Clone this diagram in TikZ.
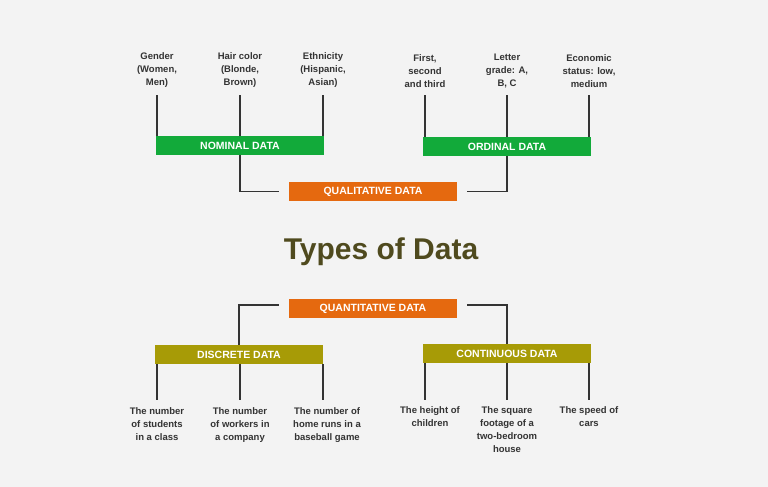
\documentclass[tikz,border=0pt]{standalone}
\usepackage{fontspec}
\setmainfont{Liberation Sans}
\usetikzlibrary{positioning}
\definecolor{bggray}{HTML}{F3F3F3}
\definecolor{nomgreen}{HTML}{12AA3A}
\definecolor{qualorange}{HTML}{E5690F}
\definecolor{discolive}{HTML}{A79B06}
\definecolor{titleolive}{HTML}{4F4A1E}
\definecolor{linegray}{HTML}{333333}
\tikzstyle{greenbox} = [rectangle, minimum width=168pt, minimum height=19pt, text centered, fill=nomgreen, text=white, font=\bfseries\fontsize{10.5}{11}\selectfont]
\tikzstyle{orangebox} = [greenbox, fill=qualorange]
\tikzstyle{olivebox} = [greenbox, fill=discolive]
\tikzstyle{leaf} = [align=center, text=linegray, font=\bfseries\fontsize{9.5}{13}\selectfont, inner sep=0pt]
\tikzstyle{line} = [linegray, line width=1.3pt]

\begin{document}
\begin{tikzpicture}[x=1pt, y=-1pt]
        \fill[bggray] (0,0) rectangle (768,487);
        \useasboundingbox (0,0) rectangle (768,487);

        % boxes
        \node (nominal) [greenbox] at (240,145.5) {NOMINAL DATA};
        \node (ordinal) [greenbox] at (507,146.5) {ORDINAL DATA};
        \node (qual) [orangebox] at (373,191.5) {QUALITATIVE DATA};
        \node (quant) [orangebox] at (373,308.5) {QUANTITATIVE DATA};
        \node (discrete) [olivebox] at (239,354.5) {DISCRETE DATA};
        \node (continuous) [olivebox] at (507,353.5) {CONTINUOUS DATA};

        \node (title) [text=titleolive, font=\bfseries\fontsize{30}{34}\selectfont] at (381,252) {Types of Data};

        % top leaves
        \node (gender) [leaf, anchor=south] at (157,88) {Gender\\(Women,\\Men)};
        \node (hair) [leaf, anchor=south] at (240,88) {Hair color\\(Blonde,\\Brown)};
        \node (ethnic) [leaf, anchor=south] at (323,88) {Ethnicity\\(Hispanic,\\Asian)};
        \node (first) [leaf, anchor=south] at (425,88) {First,\\second\\and third};
        \node (letter) [leaf, anchor=south] at (507,88) {Letter\\grade: A,\\B, C};
        \node (econ) [leaf, anchor=south] at (589,88) {Economic\\status: low,\\medium};

        % bottom leaves
        \node (students) [leaf, anchor=north] at (157,407) {The number\\of students\\in a class};
        \node (workers) [leaf, anchor=north] at (240,407) {The number\\of workers in\\a company};
        \node (homeruns) [leaf, anchor=north] at (327,407) {The number of\\home runs in a\\baseball game};
        \node (height) [leaf, anchor=north] at (430,406) {The height of\\children};
        \node (footage) [leaf, anchor=north] at (507,406) {The square\\footage of a\\two-bedroom\\house};
        \node (speed) [leaf, anchor=north] at (589,406) {The speed of\\cars};

        \foreach \a/\b in {gender/nominal, hair/nominal, ethnic/nominal, first/ordinal, letter/ordinal, econ/ordinal}
            \draw [line] (\a.south |- 0,95) -- (\a.south |- \b.north);
        \foreach \a/\b in {students/discrete, workers/discrete, footage/continuous, speed/continuous}
            \draw [line] (\a.north |- \b.south) -- (\a.north |- 0,400);
        \draw [line] (323,364) -- (323,400);
        \draw [line] (425,363) -- (425,400);

        \draw [line] (nominal.south) |- ([xshift=-10pt]qual.west);
        \draw [line] ([xshift=10pt]qual.east) -| (ordinal.south);
        \draw [line] ([xshift=-10pt, yshift=3.5pt]quant.west) -| (discrete.north);
        \draw [line] ([xshift=10pt, yshift=3.5pt]quant.east) -| (continuous.north);
\end{tikzpicture}
\end{document}
